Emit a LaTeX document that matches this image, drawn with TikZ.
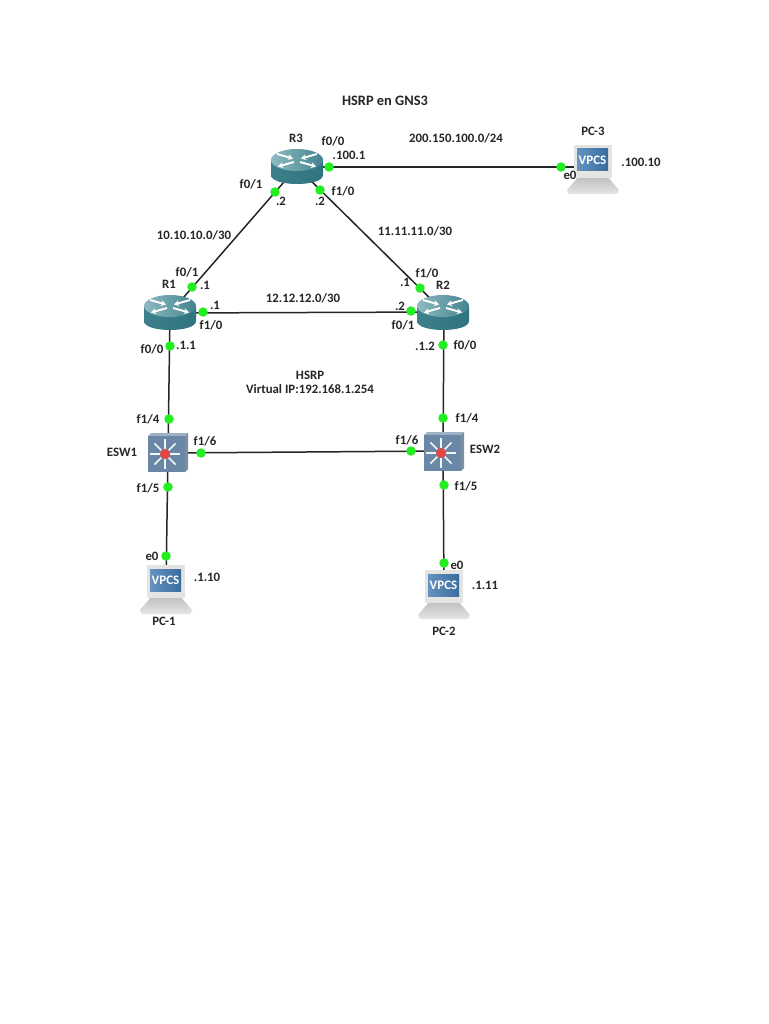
\documentclass[tikz,border=0pt]{standalone}
\usepackage{fontspec}
\setmainfont{Carlito}
\usetikzlibrary{calc,arrows.meta}
\definecolor{rtop}{HTML}{5F9CA6}
\definecolor{rside}{HTML}{2F7480}
\definecolor{sfront}{HTML}{6A88A6}
\definecolor{sside}{HTML}{9DB1C4}
\definecolor{grn}{HTML}{22EE22}
\definecolor{scr}{HTML}{3F78B0}
\definecolor{pcg}{HTML}{E4E5E3}
\definecolor{pcb}{HTML}{D2D4D2}
\tikzset{
  x=1pt,y=-1pt,
  lnk/.style={draw=black!85,line width=1.5pt},
  dot/.style={circle,fill=grn,draw=none,inner sep=0pt,minimum size=9.5pt},
  lab/.style={font=\bfseries\fontsize{12.8}{14}\selectfont,text=black!85,inner sep=0pt},
  anchorbox/.style={draw=none,inner sep=0pt,minimum width=30pt,minimum height=30pt},
  rarrow/.style={draw=white,line width=1.9pt,-{Stealth[length=5pt,width=6pt]}},
}
\newcommand{\routericon}[1]{%
 \begin{scope}[shift={(#1)}]
  \shade[left color=rside!70!rtop,right color=rside,middle color=rside!85!rtop] (-26,-6) -- (-26,8) .. controls (-26,20) and (26,20) .. (26,8) -- (26,-6) -- cycle;
  \shade[left color=rtop!70!white,right color=rside!60!rtop] (0,-7) ellipse[x radius=26,y radius=11];
  \draw[rarrow] (-20,-13)--(-4,-8.5);
  \draw[rarrow] (20,-13)--(4,-8.5);
  \draw[rarrow] (-3,-5)--(-19,-0.5);
  \draw[rarrow] (3,-5)--(19,-0.5);
 \end{scope}}
\newcommand{\switchicon}[1]{%
 \begin{scope}[shift={(#1)}]
  \fill[sside] (-17,-18)--(-14,-21)--(23,-21)--(20,-18)--cycle;
  \fill[sside!80!black] (20,-18)--(23,-21)--(23,15)--(20,18)--cycle;
  \fill[sfront] (-17,-18) rectangle (20,18);
  \foreach \a in {0,45,...,315}{\draw[white!92!sfront,line width=1.6pt] (\a:5)--(\a:15);}
  \fill[red!60!pink!90!black] (0,0) circle[radius=5];
 \end{scope}}
\newcommand{\pcicon}[1]{%
 \begin{scope}[shift={(#1)}]
  \shade[top color=pcb!90!black,bottom color=pcb!60!white] (-14,11)--(14,11)--(26,25)--(24,29)--(-24,29)--(-26,25)--cycle;
  \fill[pcg] (-19,-20) rectangle (19,13);
  \shade[left color=scr!80!white,right color=scr!90!black] (-16,-16) rectangle (15,6);
  \node[font=\bfseries\fontsize{13}{14}\selectfont,text=white,inner sep=0pt] at (-0.5,-4.5) {VPCS};
 \end{scope}}
\begin{document}
\begin{tikzpicture}
\useasboundingbox[fill=white] (0,0) rectangle (768,1024);
% anchors for devices
\node[anchorbox] (R3) at (297,167) {};
\node[anchorbox] (R1) at (170,313) {};
\node[anchorbox] (R2) at (444,312) {};
\node[anchorbox] (ESW1) at (168,453) {};
\node[anchorbox] (ESW2) at (443,451) {};
\node[anchorbox] (PC1) at (166,585) {};
\node[anchorbox] (PC2) at (444,590) {};
\node[anchorbox] (PC3) at (593,167) {};
% connectors
\draw[lnk] (R3.center)--(PC3.center);
\draw[lnk] (R3.center)--(R1.center);
\draw[lnk] (R3.center)--(R2.center);
\draw[lnk] (R1.center)--(R2.center);
\draw[lnk] (R1.center)--(ESW1.center);
\draw[lnk] (R2.center)--(ESW2.center);
\draw[lnk] (ESW1.center)--(ESW2.center);
\draw[lnk] (ESW1.center)--(PC1.center);
\draw[lnk] (ESW2.center)--(PC2.center);
% icons
\routericon{297,167}
\routericon{170,313}
\routericon{443,313}
\switchicon{165,454}
\switchicon{441,453}
\pcicon{166,585}
\pcicon{444,590}
\pcicon{593,165}
% interface dots
\node[dot] (d1) at (329,167) {};
\node[dot] (d2) at (561,167) {};
\node[dot] (d3) at (275,192) {};
\node[dot] (d4) at (192,287) {};
\node[dot] (d5) at (320,190) {};
\node[dot] (d6) at (420,288) {};
\node[dot] (d7) at (203,312) {};
\node[dot] (d8) at (411,311) {};
\node[dot] (d9) at (170,346) {};
\node[dot] (d10) at (169,419) {};
\node[dot] (d11) at (443,345) {};
\node[dot] (d12) at (443,418) {};
\node[dot] (d13) at (201,453) {};
\node[dot] (d14) at (411,451) {};
\node[dot] (d15) at (168,487) {};
\node[dot] (d16) at (166,556) {};
\node[dot] (d17) at (444,485) {};
\node[dot] (d18) at (444,563) {};
% labels
\node[lab,font=\bfseries\fontsize{14.4}{16}\selectfont] (t0) at (385,101) {HSRP en GNS3};
\node[lab] (t1) at (296,138) {R3};
\node[lab] (t2) at (333,141) {f0/0};
\node[lab] (t3) at (456,138) {200.150.100.0/24};
\node[lab] (t4) at (593,131) {PC-3};
\node[lab] (t5) at (349,155) {.100.1};
\node[lab] (t6) at (641,162) {.100.10};
\node[lab] (t7) at (570,175) {e0};
\node[lab] (t8) at (251,184) {f0/1};
\node[lab] (t9) at (343,191) {f1/0};
\node[lab] (t10) at (281,201) {.2};
\node[lab] (t11) at (320,201) {.2};
\node[lab] (t12) at (194,235) {10.10.10.0/30};
\node[lab] (t13) at (415,231) {11.11.11.0/30};
\node[lab] (t14) at (187,272) {f0/1};
\node[lab] (t15) at (169,284) {R1};
\node[lab] (t16) at (205,285) {.1};
\node[lab] (t17) at (427,273.5) {f1/0};
\node[lab] (t18) at (405,282) {.1};
\node[lab] (t19) at (443,285) {R2};
\node[lab] (t20) at (303,298) {12.12.12.0/30};
\node[lab] (t21) at (215,305) {.1};
\node[lab] (t22) at (400,306) {.2};
\node[lab] (t23) at (211,325) {f1/0};
\node[lab] (t24) at (403,325) {f0/1};
\node[lab] (t25) at (152,349) {f0/0};
\node[lab] (t26) at (186,345) {.1.1};
\node[lab] (t27) at (425,346) {.1.2};
\node[lab] (t28) at (465,345) {f0/0};
\node[lab] (t29) at (310,375) {HSRP};
\node[lab] (t30) at (310,389) {Virtual IP:192.168.1.254};
\node[lab] (t31) at (148,419) {f1/4};
\node[lab] (t32) at (467,418) {f1/4};
\node[lab] (t33) at (205,441) {f1/6};
\node[lab] (t34) at (407,440) {f1/6};
\node[lab] (t35) at (122,452) {ESW1};
\node[lab] (t36) at (485,449) {ESW2};
\node[lab] (t37) at (148,488) {f1/5};
\node[lab] (t38) at (466,486) {f1/5};
\node[lab] (t39) at (152,556) {e0};
\node[lab] (t40) at (457,565) {e0};
\node[lab] (t41) at (207,577) {.1.10};
\node[lab] (t42) at (485,585) {.1.11};
\node[lab] (t43) at (164,621) {PC-1};
\node[lab] (t44) at (444,631) {PC-2};
\end{tikzpicture}
\end{document}
